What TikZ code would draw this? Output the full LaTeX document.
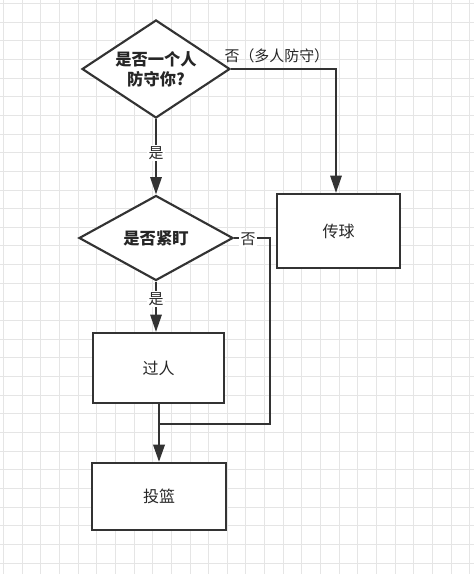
\documentclass[tikz,border=0pt]{standalone}
\usepackage{fontspec}
\setmainfont{Noto Sans CJK SC}
\usetikzlibrary{shapes.geometric,arrows.meta}
\begin{document}
\begin{tikzpicture}[x=0.75pt,y=-0.75pt,
  line/.style={draw=black!80,line width=1.6pt},
  arr/.style={line,-{Triangle[length=13pt,width=8.5pt]}},
  decision/.style={diamond,draw=black!80,line width=1.6pt,fill=white,inner sep=0pt,align=center,font=\fontsize{12.2pt}{15pt}\selectfont\bfseries,text=black!85},
  procbox/.style={rectangle,draw=black!80,line width=1.6pt,fill=white,inner sep=0pt,font=\fontsize{12pt}{14pt}\selectfont,text=black!85},
  lab/.style={fill=white,inner sep=1pt,font=\fontsize{11.2pt}{13pt}\selectfont,text=black!85}]
\useasboundingbox (0,0) rectangle (474,574);
\fill[white] (0,0) rectangle (474,574);
\foreach \i in {0,...,25} {
  \draw[black!10,line width=0.6pt] ({3.4+18.65*\i},0) -- ({3.4+18.65*\i},574);
}
\foreach \i in {0,...,31} {
  \draw[black!10,line width=0.6pt] (0,{3.4+18.65*\i}) -- (474,{3.4+18.65*\i});
}
\node[decision,aspect=1.5,minimum width=148pt*0.75,minimum height=98pt*0.75] (d1) at (156,69) {是否一个人\\防守你?};
\node[decision,aspect=1.8,minimum width=154pt*0.75,minimum height=85pt*0.75] (d2) at (156,238) {是否紧盯};
\node[procbox,minimum width=123pt*0.75,minimum height=74pt*0.75] (pass) at (338.5,231) {传球};
\node[procbox,minimum width=131pt*0.75,minimum height=70pt*0.75] (drib) at (158.5,368) {过人};
\node[procbox,minimum width=134pt*0.75,minimum height=67pt*0.75] (shoot) at (159,496.5) {投篮};
\coordinate (c1) at (336,69);
\coordinate (c2) at (270,238);
\coordinate (c3) at (270,424);
\coordinate (c4) at (159,424);
\draw[arr] (d1.east) -- (c1) -- (pass.north -| c1);
\node[lab,anchor=south west,fill=none] (l1) at (223,65) {否（多人防守）};
\draw[arr] (d1.south) -- (d2.north) node[lab,pos=0.45] (l2) {是};
\draw[arr] (d2.south) -- (d2.south |- drib.north) node[lab,pos=0.35] (l3) {是};
\draw[arr,line width=2pt] (drib.south -| shoot.north) -- (shoot.north);
\draw[line] (d2.east) -- (c2) -- (c3) -- (c4);
\node[lab] (l4) at (248,239) {否};
\end{tikzpicture}
\end{document}
